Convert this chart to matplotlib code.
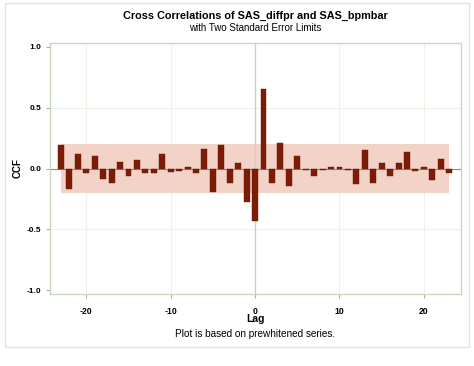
import matplotlib
matplotlib.use("Agg")
import matplotlib.pyplot as plt
from matplotlib.patches import Rectangle

plt.rcParams['font.family'] = ['Liberation Sans', 'DejaVu Sans']

lags = list(range(-23, 24))
ccf = [0.19, -0.17, 0.12, -0.035, 0.10, -0.085, -0.12, 0.05, -0.06, 0.07,
       -0.04, -0.04, 0.12, -0.025, -0.02, 0.01, -0.035, 0.16, -0.195, 0.195,
       -0.115, 0.045, -0.275, -0.43,
       0.655, -0.12, 0.21, -0.14, 0.10, -0.015, -0.06, -0.015, 0.015, 0.01,
       -0.015, -0.13, 0.155, -0.115, 0.045, -0.06, 0.045, 0.135, -0.02, 0.015,
       -0.095, 0.075, -0.04]
stderr_limit = 0.2
xticks = [-20, -10, 0, 10, 20]
yticks = [-1.0, -0.5, 0.0, 0.5, 1.0]
ytick_labels = ["-1.0", "-0.5", "0.0", "0.5", "1.0"]

fig = plt.figure(figsize=(4.74, 3.66), dpi=100)
fig.patch.set_facecolor("white")
# outer border
fig.add_artist(Rectangle((5/474, 1-347/366), 464/474, 344/366, transform=fig.transFigure,
                         fill=False, edgecolor="#dfe8d8", linewidth=1.0))

ax = fig.add_axes([50/474, 1-294/366, 411/474, 251/366])
ax.set_xlim(-24.3, 24.4)
ax.set_ylim(-1.03, 1.03)

for v in xticks:
    if v != 0:
        ax.axvline(v, color="#eef3ea", linewidth=0.8, zorder=0)
for v in [-0.5, 0.5]:
    ax.axhline(v, color="#eef3ea", linewidth=0.8, zorder=0)

ax.fill_between([-23, 23], -stderr_limit, stderr_limit, color="#f3d3c8", linewidth=0, zorder=1)
ax.axvline(0, color="#c5d8b5", linewidth=1.0, zorder=1.5)
ax.axhline(0, color="#8a8a80", linewidth=0.8, zorder=1.6)
ax.bar(lags, ccf, width=0.7, color="#7d1c06", edgecolor="#6a1604", linewidth=0.3, zorder=3)

for s in ax.spines.values():
    s.set_color("#c8d8c0")
    s.set_linewidth(1.0)

ax.set_xticks(xticks)
ax.set_xticklabels([str(v) for v in xticks], fontsize=6.2, fontweight="bold")
ax.set_yticks(yticks)
ax.set_yticklabels(ytick_labels, fontsize=6, fontweight="bold")
ax.tick_params(axis="both", length=3, color="#999999", width=0.6)
ax.tick_params(axis="y", pad=3)
ax.tick_params(axis="x", pad=6)

ax.set_xlabel("Lag", fontsize=7.5, fontweight="bold")
ax.xaxis.set_label_coords(0.5, -(319 - 294) / 251, transform=ax.transAxes)
ax.xaxis.label.set_va("center")
ax.set_ylabel("CCF", fontsize=7, fontweight="bold")
ax.yaxis.set_label_coords(-(50 - 18) / 411, 0.5, transform=ax.transAxes)
ax.yaxis.label.set_va("center")

fig.text(255/474, 1-16/366, "Cross Correlations of SAS_diffpr and SAS_bpmbar",
         ha="center", va="center", fontsize=7.8, fontweight="bold")
fig.text(255/474, 1-28/366, "with Two Standard Error Limits",
         ha="center", va="center", fontsize=7)
fig.text(255/474, 1-334/366, "Plot is based on prewhitened series.",
         ha="center", va="center", fontsize=7.2)

fig.savefig("out.png", dpi=100, facecolor="white")
